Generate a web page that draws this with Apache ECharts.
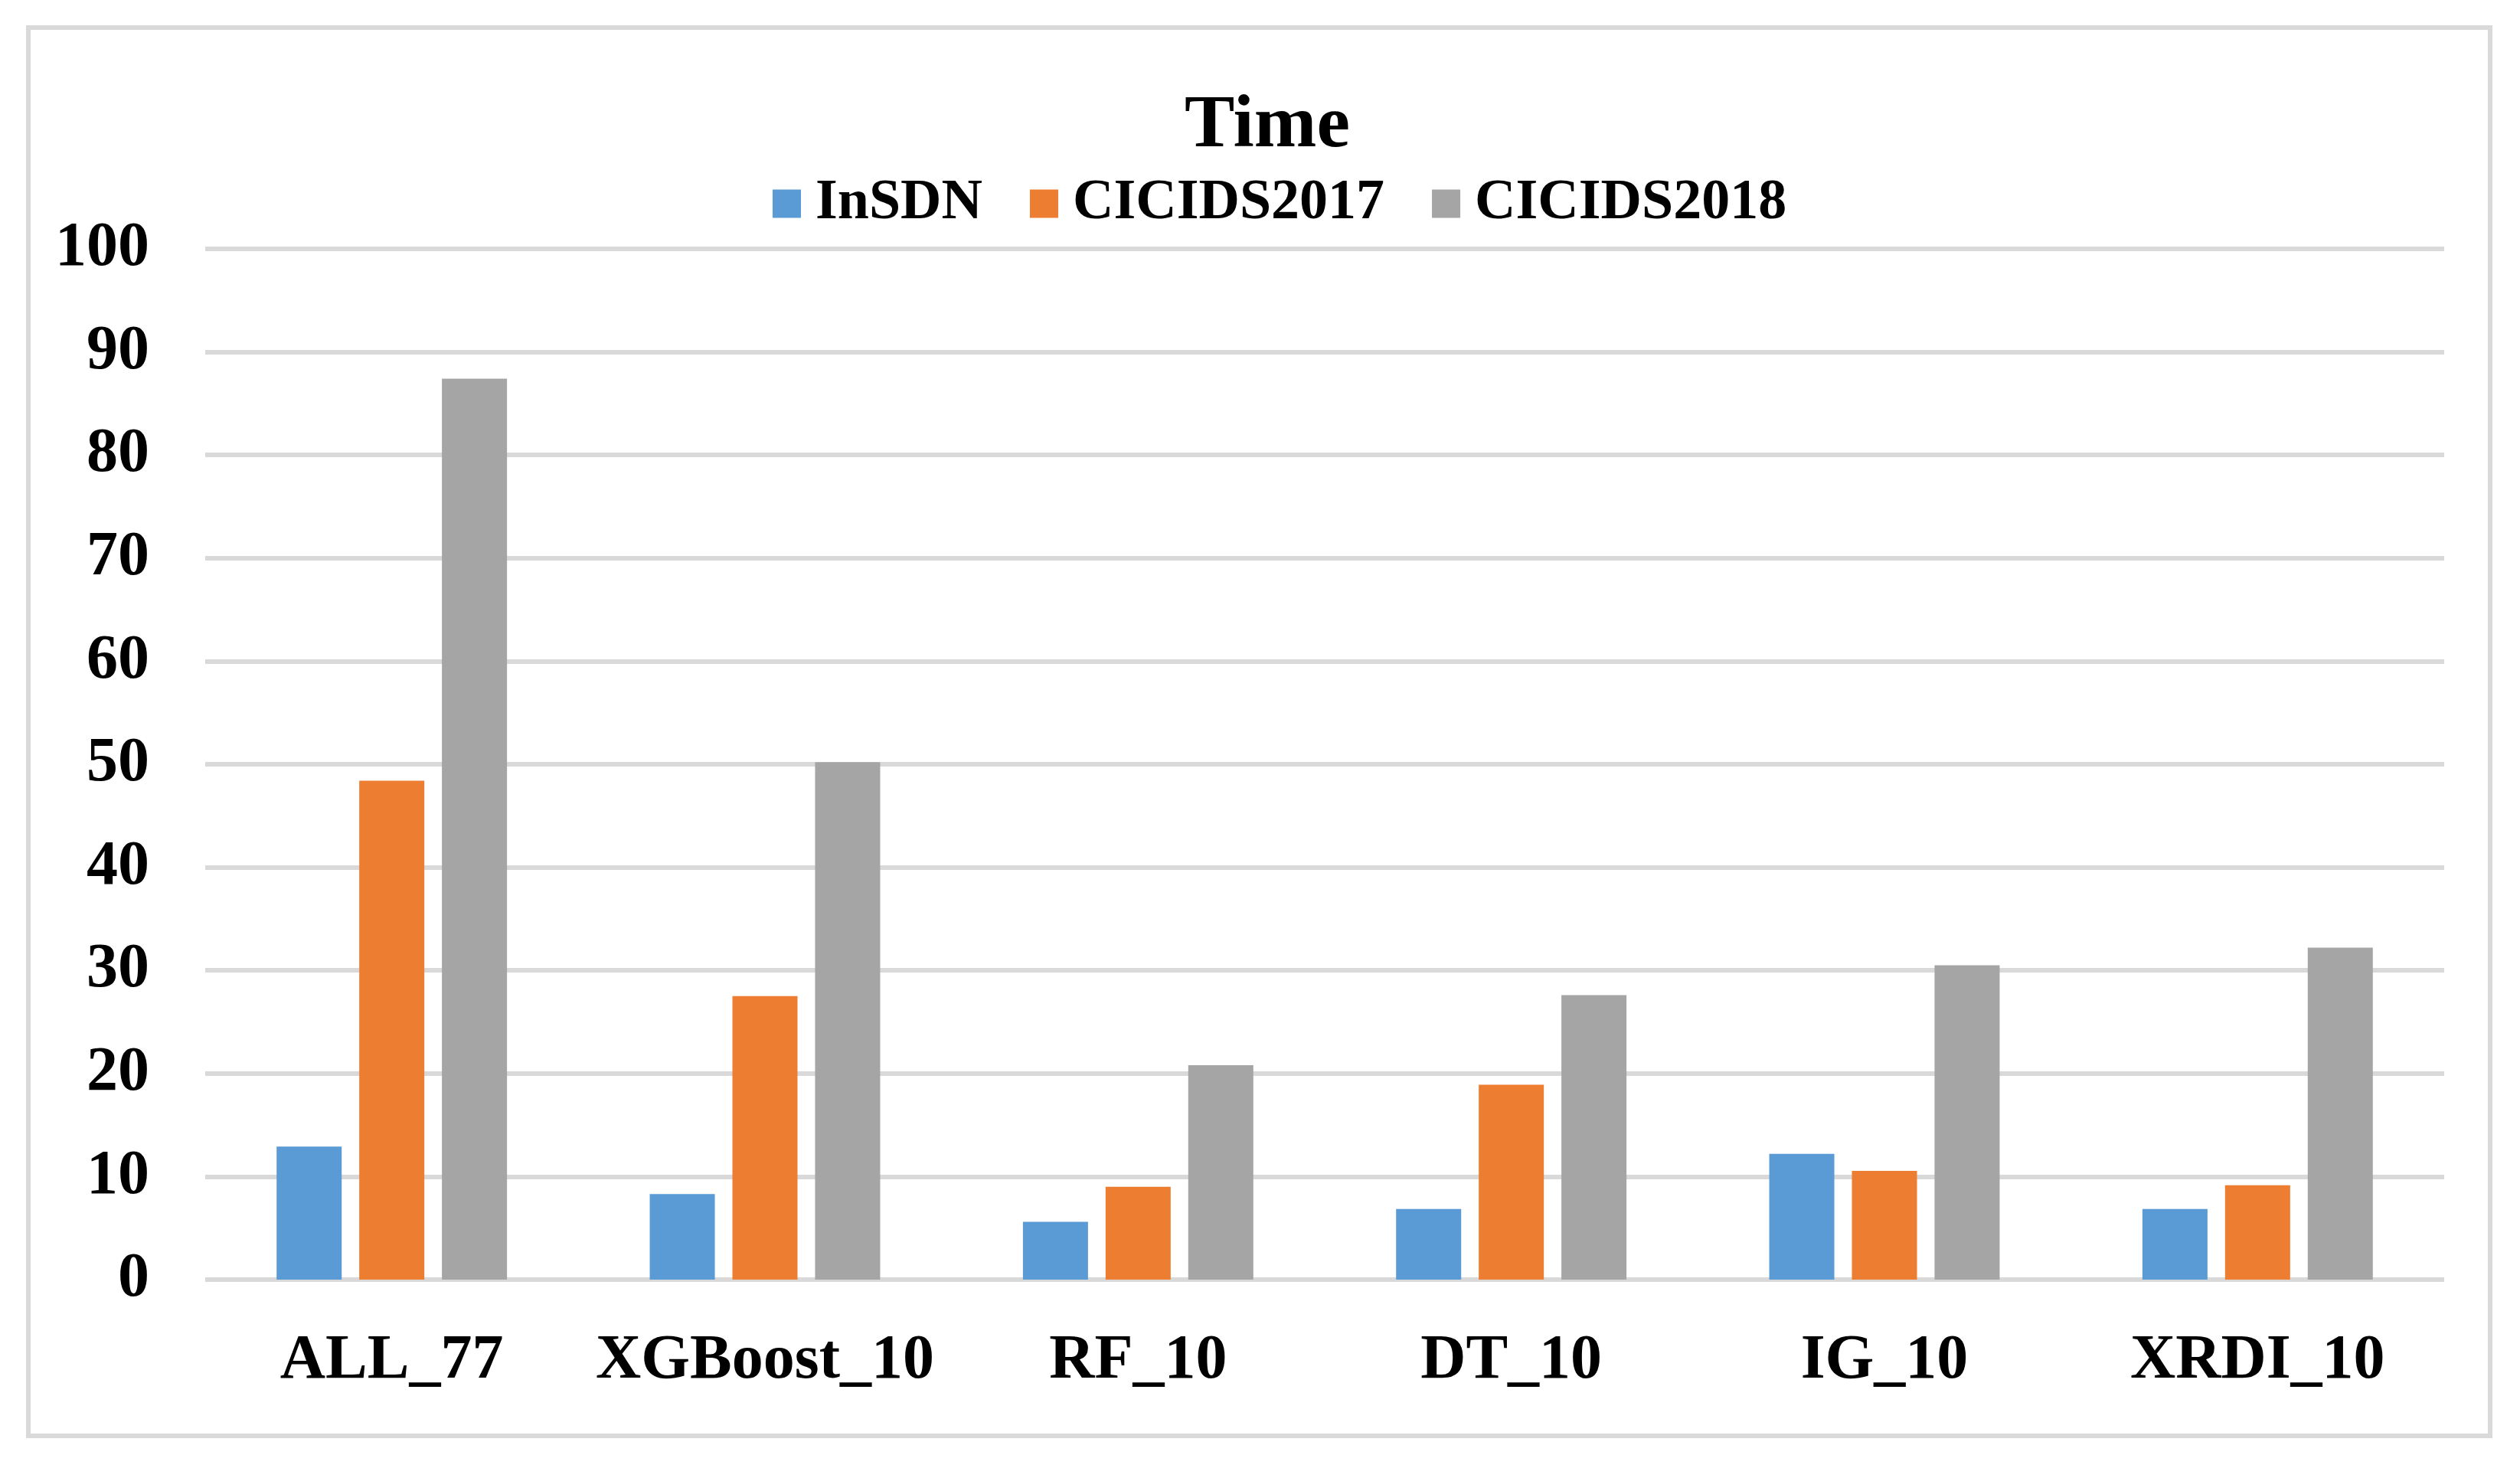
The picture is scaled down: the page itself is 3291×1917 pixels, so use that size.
<!DOCTYPE html>
<html>
<head>
<meta charset="utf-8">
<script src="https://cdn.jsdelivr.net/npm/echarts@6/dist/echarts.min.js"></script>
<style>
html,body{margin:0;padding:0;background:#fff;}
#chart{width:3291px;height:1917px;}
</style>
</head>
<body>
<div id="chart"></div>
<script>
const categories = ['ALL_77', 'XGBoost_10', 'RF_10', 'DT_10', 'IG_10', 'XRDI_10'];
const seriesNames = ['InSDN', 'CICIDS2017', 'CICIDS2018'];
const inSDN = [12.9, 8.3, 5.6, 6.85, 12.2, 6.85];
const cicids2017 = [48.4, 27.5, 9.0, 18.9, 10.55, 9.15];
const cicids2018 = [87.4, 50.2, 20.8, 27.6, 30.5, 32.2];
const yTicks = [0, 10, 20, 30, 40, 50, 60, 70, 80, 90, 100];

const colors = ['#5B9BD5', '#ED7D31', '#A5A5A5'];
const font = "'Liberation Serif', 'Times New Roman', serif";

const chart = echarts.init(document.getElementById('chart'), null, {renderer: 'canvas'});
const dataSets = [inSDN, cicids2017, cicids2018];

chart.setOption({
  animation: false,
  backgroundColor: '#ffffff',
  title: {
    text: 'Time',
    left: 1650,
    textAlign: 'center',
    top: 112,
    textStyle: {fontFamily: font, fontWeight: 'bold', fontSize: 98, color: '#000'}
  },
  legend: {
    data: seriesNames,
    left: 1004,
    top: 224,
    icon: 'rect',
    itemWidth: 37,
    itemHeight: 37,
    itemGap: 62,
    textStyle: {fontFamily: font, fontWeight: 'bold', fontSize: 74, color: '#000', padding: [0, 0, 0, 14]}
  },
  graphic: [{
    type: 'rect',
    shape: {x: 37, y: 36, width: 3215, height: 1839},
    style: {fill: 'none', stroke: '#d9d9d9', lineWidth: 6},
    silent: true
  }],
  grid: {left: 268, right: 99, top: 325, bottom: 246, containLabel: false},
  xAxis: {
    type: 'category',
    data: categories,
    axisLine: {show: false},
    axisTick: {show: false},
    axisLabel: {interval: 0, margin: 66, fontFamily: font, fontWeight: 'bold', fontSize: 82, color: '#000'}
  },
  yAxis: {
    type: 'value',
    min: yTicks[0],
    max: yTicks[yTicks.length - 1],
    interval: yTicks[1] - yTicks[0],
    axisLine: {show: false},
    axisTick: {show: false},
    splitLine: {lineStyle: {color: '#d9d9d9', width: 6}},
    axisLabel: {margin: 73, fontFamily: font, fontWeight: 'bold', fontSize: 82, color: '#000'}
  },
  series: seriesNames.map((name, i) => ({
    name: name,
    type: 'bar',
    data: dataSets[i],
    barWidth: 85,
    barGap: '27%',
    itemStyle: {color: colors[i]}
  }))
});
</script>
</body>
</html>
